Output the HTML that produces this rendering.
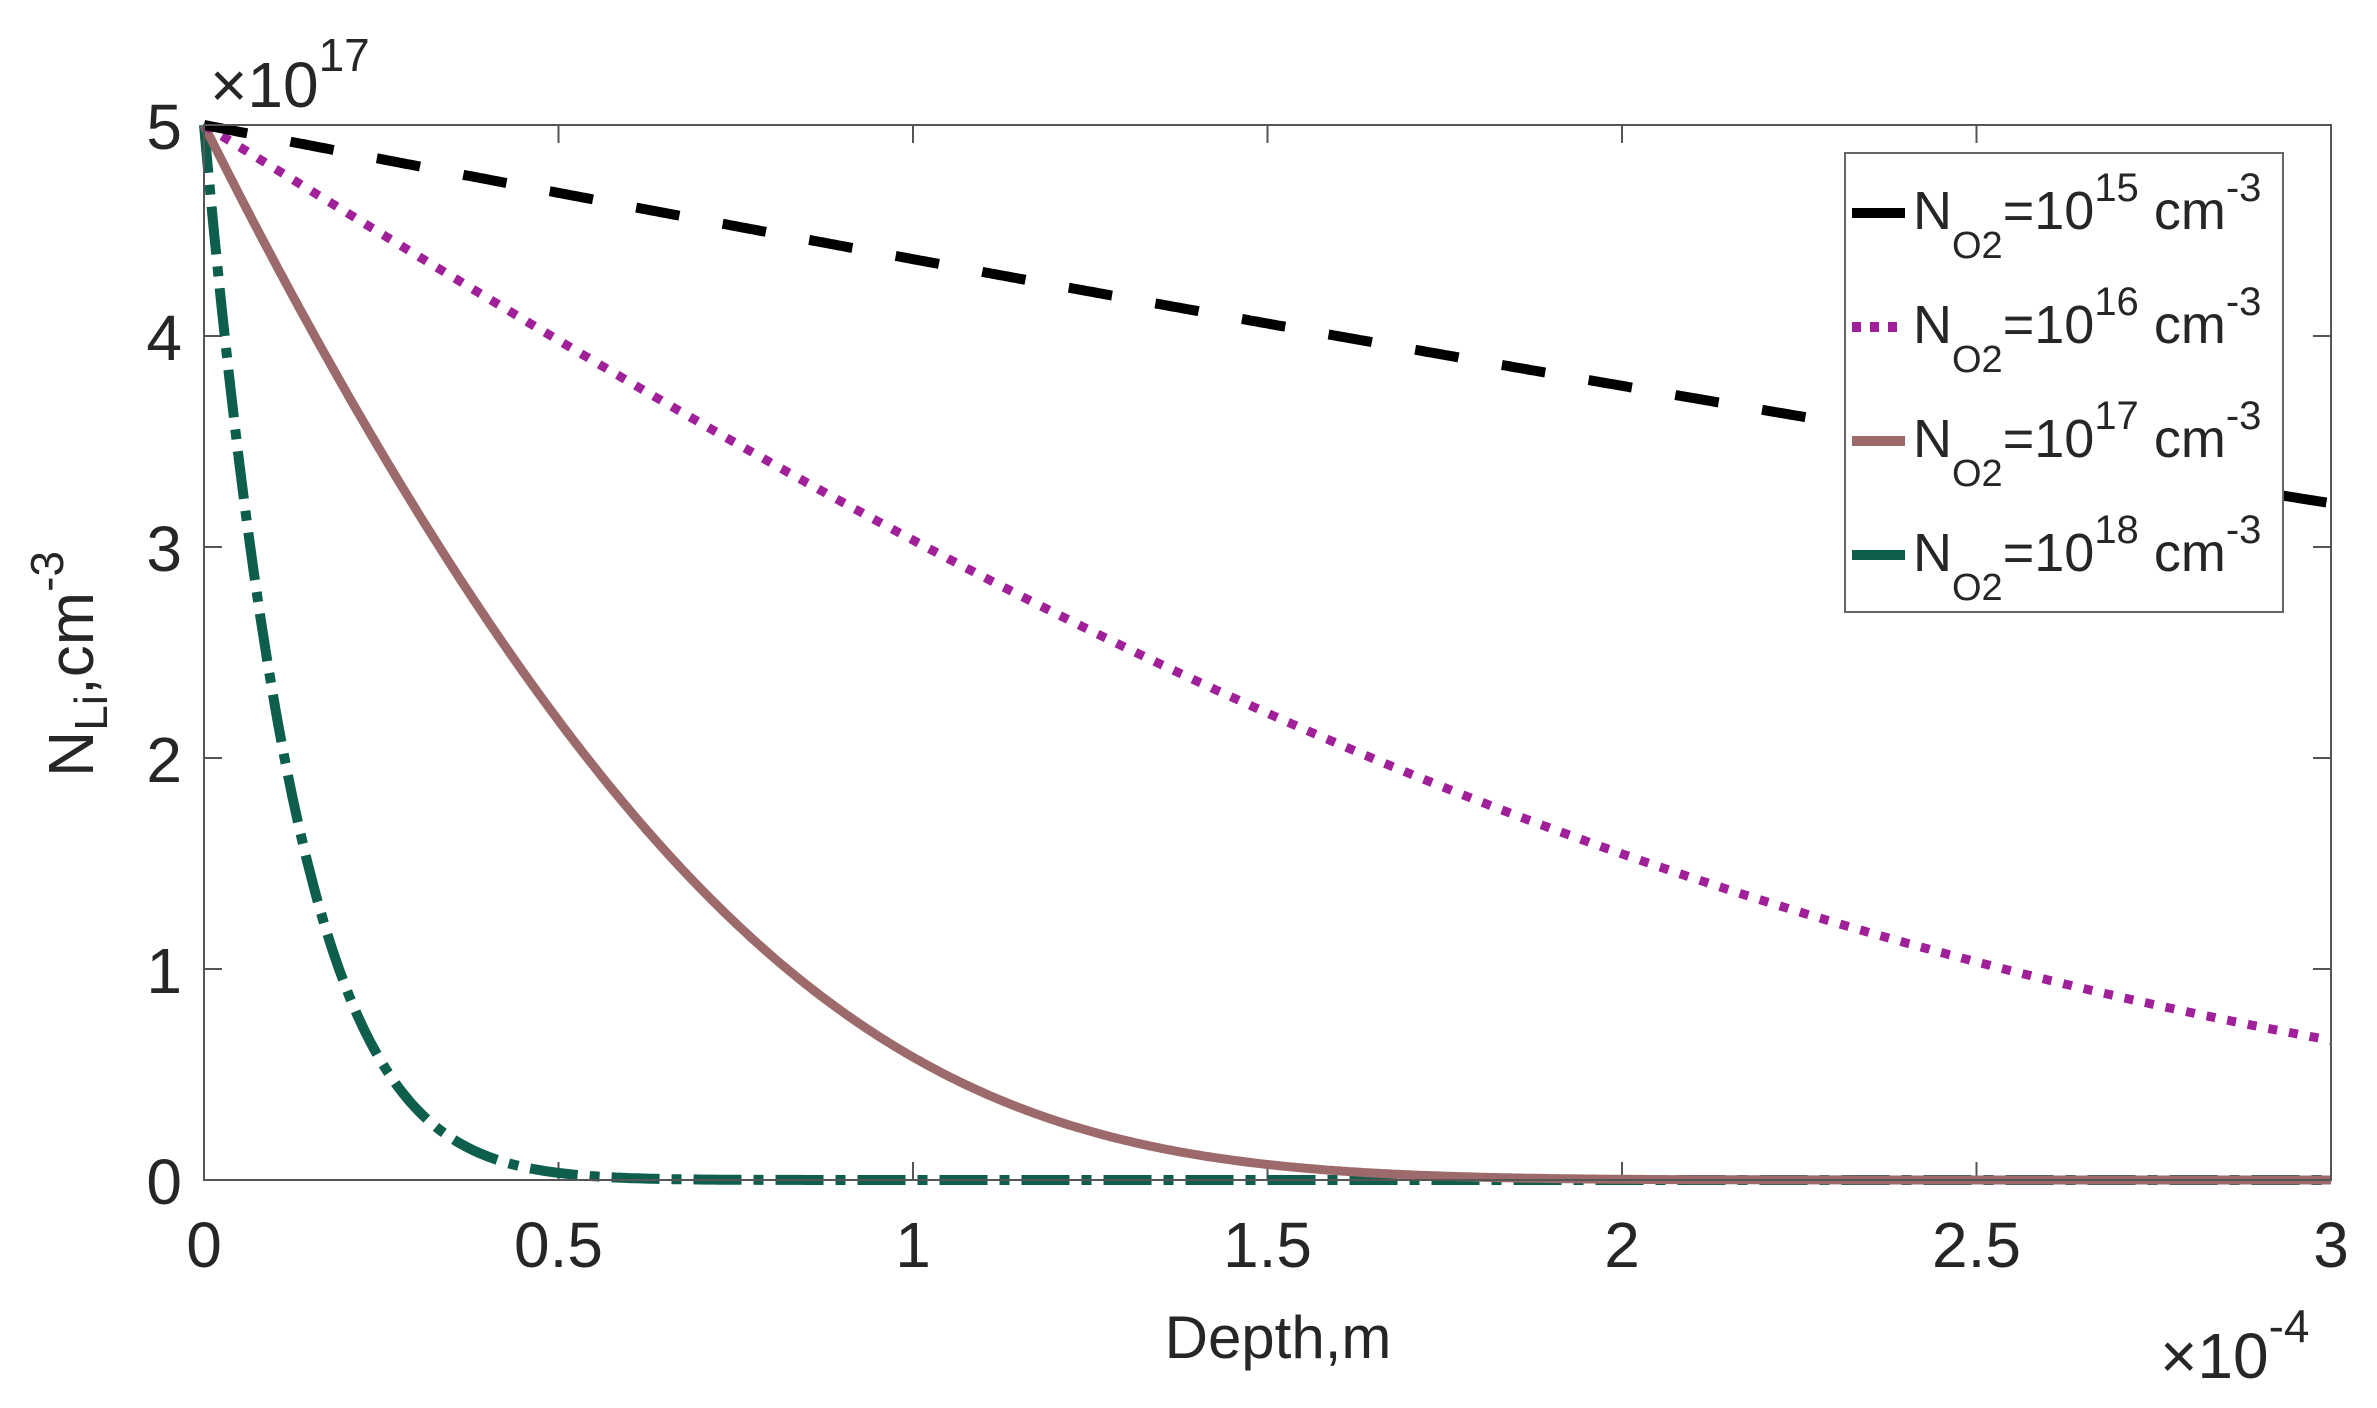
<!DOCTYPE html>
<html><head><meta charset="utf-8"><style>
html,body{margin:0;padding:0;background:#fff;}
svg{display:block;}
text{font-family:"Liberation Sans",Arial,sans-serif;fill:#262626;}
</style></head><body>
<svg id="s" width="2377" height="1408" viewBox="0 0 2377 1408" xmlns="http://www.w3.org/2000/svg">
<rect width="2377" height="1408" fill="#fff"/>
<g id="ticks" stroke="#555" stroke-width="2"></g>
<g id="curves" fill="none"></g>
<rect x="204" y="125" width="2127" height="1055" fill="none" stroke="#555" stroke-width="2"/>
<g font-size="64" id="labels"></g>
<text x="210" y="107" font-size="64">×10<tspan font-size="46" dy="-36">17</tspan></text>
<text x="2160" y="1378" font-size="64">×10<tspan font-size="46" dy="-36">-4</tspan></text>
<text x="1278" y="1358" font-size="60" text-anchor="middle">Depth,m</text>
<text transform="translate(93,777) rotate(-90)" font-size="64">N<tspan font-size="46" dy="14">Li</tspan><tspan dy="-14">,cm</tspan><tspan font-size="46" dy="-30">-3</tspan></text>
<rect x="1845" y="153" width="438" height="459" fill="#fff" stroke="#666" stroke-width="2"/>
<g id="legend"></g>
</svg>
<script>
var NS="http://www.w3.org/2000/svg";
function el(p,t,a,txt){var e=document.createElementNS(NS,t);for(var k in a)e.setAttribute(k,a[k]);if(txt!=null)e.textContent=txt;p.appendChild(e);return e;}
var X0=204,X1=2331,Y0=1180,Y5=125;
function X(d){return X0+(X1-X0)*d/3;}function Y(v){return Y0-(Y0-Y5)*v/5;}
var tk=document.getElementById('ticks'),lb=document.getElementById('labels');
var xt=[0,0.5,1,1.5,2,2.5,3],xl=["0","0.5","1","1.5","2","2.5","3"];
xt.forEach(function(d,i){var x=X(d);el(tk,'line',{x1:x,y1:Y0,x2:x,y2:Y0-18});el(tk,'line',{x1:x,y1:Y5,x2:x,y2:Y5+18});
el(lb,'text',{x:x,y:1267,'text-anchor':'middle'},xl[i]);});
for(var v=0;v<=5;v++){var y=Y(v);el(tk,'line',{x1:X0,y1:y,x2:X0+18,y2:y});el(tk,'line',{x1:X1,y1:y,x2:X1-18,y2:y});
el(lb,'text',{x:182,y:y+24,'text-anchor':'end'},String(v));}
var cv=document.getElementById('curves');
function pathF(f){var s="";for(var i=0;i<=600;i++){var d=3*i/600;var v=f(d);s+=(i?"L":"M")+X(d).toFixed(1)+" "+Y(v).toFixed(1);}return s;}
function path(a,b){return pathF(function(d){return 5*Math.exp(-(a*d+b*d*d));});}
el(cv,'path',{d:path(7.5,5.0),stroke:'#0d5e4c','stroke-width':10,'stroke-dasharray':'48 12 10 12'});
el(cv,'path',{d:pathF(function(d){return 5*Math.exp(-(1.35+0.45*d+0.35*d*d)*d);}),stroke:'#9c6a6a','stroke-width':9});
el(cv,'path',{d:path(0.413,0.087),stroke:'#a0209a','stroke-width':9,'stroke-dasharray':'9 12'});
el(cv,'path',{d:path(0.13,0.006),stroke:'#000','stroke-width':10,'stroke-dasharray':'44 44'});
var lg=document.getElementById('legend');
var rows=[["15",'#000',{}],["16",'#a0209a',{'stroke-dasharray':'9 9'}],["17",'#9c6a6a',{}],["18",'#0d5e4c',{}]];
rows.forEach(function(r,i){var yb=229+i*114;var a={x1:1852,y1:yb-16,x2:1905,y2:yb-16,stroke:r[1],'stroke-width':10};for(var k in r[2])a[k]=r[2][k];el(lg,'line',a);
var t=el(lg,'text',{x:1913,y:yb,'font-size':54});
t.innerHTML='N<tspan font-size="38" dy="29">O2</tspan><tspan dy="-29">=10</tspan><tspan font-size="40" dy="-28">'+r[0]+'</tspan><tspan dy="28"> cm</tspan><tspan font-size="40" dy="-28">-3</tspan>';});
</script>
</body></html>
